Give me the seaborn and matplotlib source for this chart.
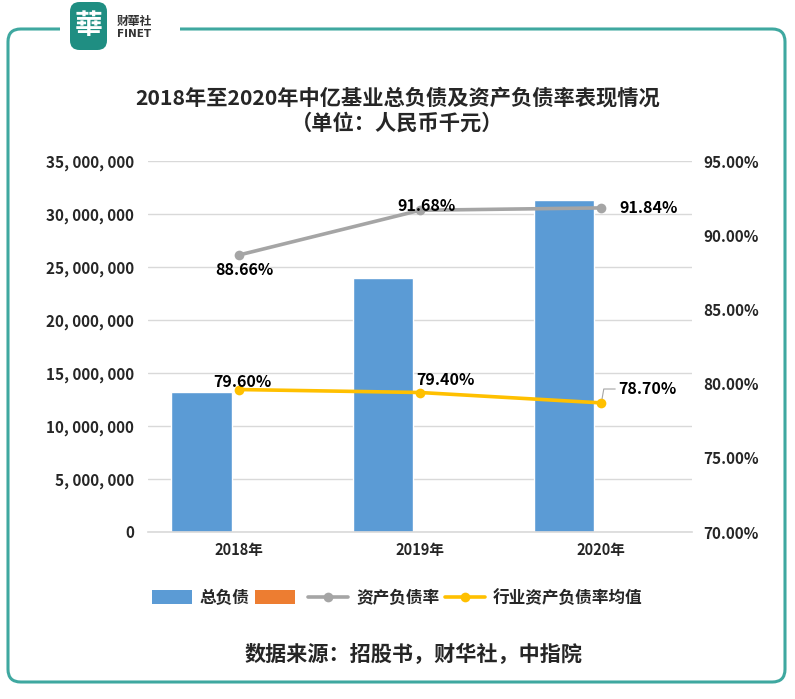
import numpy as np
import pandas as pd
import matplotlib
matplotlib.use("Agg")
import matplotlib.pyplot as plt
import seaborn as sns
from matplotlib.patches import FancyBboxPatch, Rectangle, Patch
from matplotlib.lines import Line2D
from matplotlib.ticker import FuncFormatter, FixedLocator

# ---------------- data ----------------
years = ["2018年", "2019年", "2020年"]
total_liabilities = [13200000, 23960000, 31350000]      # 总负债 (千元)
empty_series = [0, 0, 0]                                  # 空系列（橙色）
debt_ratio = [88.66, 91.68, 91.84]                        # 资产负债率 %
industry_avg = [79.60, 79.40, 78.70]                      # 行业资产负债率均值 %
left_ticks = [0, 5000000, 10000000, 15000000, 20000000, 25000000, 30000000, 35000000]
right_ticks = [70, 75, 80, 85, 90, 95]

series_names = ["总负债", "空"]
title_text = "2018年至2020年中亿基业总负债及资产负债率表现情况\n（单位：人民币千元）"
source_text = "数据来源：招股书，财华社，中指院"

BLUE = "#5B9BD5"
ORANGE = "#ED7D31"
GRAY = "#A5A5A5"
YELLOW = "#FFC000"
TEAL = "#3FA8A0"

sns.set_theme(style="white")
plt.rcParams['font.family'] = ['Noto Sans CJK SC', 'DejaVu Sans']

W, H = 795, 699
fig = plt.figure(figsize=(W / 100, H / 100), dpi=100)

def fx(px):
    return px / W

def fy(py):
    return 1 - py / H

# ---------------- frame ----------------
frame = FancyBboxPatch((fx(8), fy(682)), fx(777), fy(29) - fy(682),
                       boxstyle="round,pad=0,rounding_size=0.016",
                       transform=fig.transFigure, fill=False,
                       edgecolor=TEAL, linewidth=2.2, zorder=0, mutation_aspect=W / H)
fig.patches.append(frame)
# gap for logo
fig.patches.append(Rectangle((fx(60), fy(40)), fx(120), fy(20) - fy(40),
                             transform=fig.transFigure, facecolor="white",
                             edgecolor="none", zorder=1))
# logo
logo = FancyBboxPatch((fx(70), fy(50)), fx(37), fy(2) - fy(50),
                      boxstyle="round,pad=0,rounding_size=0.012",
                      transform=fig.transFigure, facecolor="#1F8E82",
                      edgecolor="none", zorder=2, mutation_aspect=W / H)
fig.patches.append(logo)
fig.text(fx(88.5), fy(26), "華", color="white", fontsize=20, fontweight="bold",
         ha="center", va="center", family=['Noto Sans CJK TC', 'DejaVu Sans'], zorder=3)
fig.text(fx(117), fy(21), "财華社", color="#333333", fontsize=8.5, fontweight="bold",
         ha="left", va="center", family=['Noto Sans CJK TC', 'DejaVu Sans'], zorder=3)
fig.text(fx(117), fy(34), "FINET", color="#333333", fontsize=7.5, fontweight="bold",
         ha="left", va="center", family=['DejaVu Sans'], zorder=3)

# ---------------- axes ----------------
ax = fig.add_axes([fx(148), fy(532), fx(692) - fx(148), fy(161) - fy(532)])

df = pd.DataFrame({
    "year": years * 2,
    "series": [series_names[0]] * 3 + [series_names[1]] * 3,
    "value": total_liabilities + empty_series,
})
sns.barplot(data=df, x="year", y="value", hue="series", hue_order=series_names,
            palette=[BLUE, ORANGE], width=0.82, gap=0.19, ax=ax, legend=False,
            saturation=1, errorbar=None, zorder=2)

ax.set_xlim(-0.5, 2.5)
ax.set_ylim(left_ticks[0], left_ticks[-1])
ax.yaxis.set_major_locator(FixedLocator(left_ticks))
ax.yaxis.set_major_formatter(FuncFormatter(lambda v, p: f"{int(v):,}".replace(",", ", ")))
ax.grid(axis="y", color="#D9D9D9", linewidth=1)
ax.set_axisbelow(True)
for s in ["top", "right", "left"]:
    ax.spines[s].set_visible(False)
ax.spines["bottom"].set_color("#D9D9D9")
ax.spines["bottom"].set_linewidth(1.2)
ax.set_xlabel("")
ax.set_ylabel("")
ax.tick_params(axis="y", length=0, pad=10, labelsize=11)
ax.tick_params(axis="x", length=0, pad=7, labelsize=10.5)
for t in ax.get_yticklabels() + ax.get_xticklabels():
    t.set_fontweight("bold")

# secondary axis
ax2 = ax.twinx()
xpos = np.arange(len(years))
sns.lineplot(x=xpos, y=debt_ratio, ax=ax2, color=GRAY, linewidth=2.6,
             marker="o", markersize=7, markeredgewidth=0, zorder=3)
sns.lineplot(x=xpos, y=industry_avg, ax=ax2, color=YELLOW, linewidth=2.6,
             marker="o", markersize=7, markeredgewidth=0, zorder=3)
ax2.set_ylim(right_ticks[0], right_ticks[-1])
ax2.yaxis.set_major_locator(FixedLocator(right_ticks))
ax2.yaxis.set_major_formatter(FuncFormatter(lambda v, p: f"{v:.2f}%"))
for s in ["top", "right", "left", "bottom"]:
    ax2.spines[s].set_visible(False)
ax2.tick_params(axis="y", length=0, pad=8, labelsize=11)
for t in ax2.get_yticklabels():
    t.set_fontweight("bold")
ax2.grid(False)
ax.set_xlim(-0.5, 2.5)

# data labels
lab_kw = dict(fontsize=11.5, fontweight="bold", color="black", zorder=5)
ax2.annotate(f"{debt_ratio[0]:.2f}%", (xpos[0], debt_ratio[0]), xytext=(4, -5),
             textcoords="offset points", ha="center", va="top", **lab_kw)
ax2.annotate(f"{debt_ratio[1]:.2f}%", (xpos[1], debt_ratio[1]), xytext=(5, -3),
             textcoords="offset points", ha="center", va="bottom", **lab_kw)
ax2.annotate(f"{debt_ratio[2]:.2f}%", (xpos[2], debt_ratio[2]), xytext=(13, 0),
             textcoords="offset points", ha="left", va="center", **lab_kw)
ax2.annotate(f"{industry_avg[0]:.2f}%", (xpos[0], industry_avg[0]), xytext=(3, 0),
             textcoords="offset points", ha="center", va="bottom", **lab_kw)
ax2.annotate(f"{industry_avg[1]:.2f}%", (xpos[1], industry_avg[1]), xytext=(-3, 3),
             textcoords="offset points", ha="left", va="bottom", **lab_kw)
ax2.annotate(f"{industry_avg[2]:.2f}%", (xpos[2], industry_avg[2]), xytext=(12, 10),
             textcoords="offset points", ha="left", va="center", **lab_kw)
# leader line for 78.70%
ax2.annotate("", (xpos[2], industry_avg[2]), xytext=(10, 10), textcoords="offset points",
             arrowprops=dict(arrowstyle="-", color="#A5A5A5", lw=0.8,
                             connectionstyle="angle,angleA=0,angleB=80,rad=0",
                             shrinkA=0, shrinkB=3))

# title
fig.text(0.5, fy(111), title_text, ha="center", va="center", fontsize=15.3,
         fontweight="bold", linespacing=1.25)

# legend
handles = [
    Patch(facecolor=BLUE, edgecolor="none"),
    Patch(facecolor=ORANGE, edgecolor="none"),
    Line2D([0], [0], color=GRAY, lw=2.6, marker="o", markersize=7, markeredgewidth=0),
    Line2D([0], [0], color=YELLOW, lw=2.6, marker="o", markersize=7, markeredgewidth=0),
]
labels = ["总负债", "", "资产负债率", "行业资产负债率均值"]
leg = fig.legend(handles, labels, loc="center", bbox_to_anchor=(fx(397), fy(598)),
                 ncol=4, frameon=False, fontsize=12, handlelength=2.4,
                 handleheight=0.9, columnspacing=0.35, handletextpad=0.45)
for t in leg.get_texts():
    t.set_fontweight("bold")

# source
fig.text(fx(414), fy(654), source_text, ha="center", va="center", fontsize=15.2,
         fontweight="bold")

fig.savefig("out.png", dpi=100)
